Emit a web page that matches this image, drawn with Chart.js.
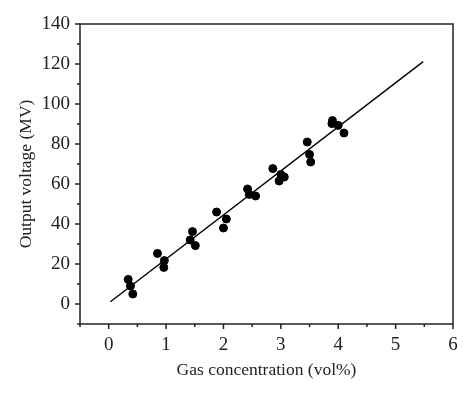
<!DOCTYPE html>
<html>
<head>
<meta charset="utf-8">
<script src="https://cdn.jsdelivr.net/npm/chart.js@4"></script>
<style>
	html, body { margin: 0; padding: 0; background: #fff; }
	#wrap { width: 474px; height: 395px; }
</style>
</head>
<body>
<div id="wrap"><canvas id="gas-chart"></canvas></div>
<script>
const gasX = [
	0.34, 0.38, 0.42, 0.85, 0.97, 0.96, 1.46, 1.42, 1.51, 1.88, 2.05, 2.0,
	2.42, 2.45, 2.56, 2.86, 3.0, 2.97, 3.06, 3.46, 3.5, 3.52, 3.9, 3.89, 4.0, 4.1,
]
const voltageY = [
	12.3, 9, 5, 25.3, 21.7, 18.3, 36.2, 32, 29.2, 46, 42.5, 38,
	57.5, 54.8, 54, 67.7, 64.8, 61.5, 63.5, 81, 74.8, 71, 91.7, 90.2, 89.3, 85.5,
]
// linear fit end points
const fitX = [0.03, 5.48]
const fitY = [1.1, 121.2]

const xTicks = { min: -0.5, max: 6, step: 0.5 }
const yTicks = { min: -10, max: 140, step: 10 }

const serif = '"Liberation Serif", "DejaVu Serif", serif'

// box around plot + outward tick marks (major/minor)
const frameTicks = {
	id: 'frameTicks',
	afterDraw(chart) {
		const { ctx, chartArea: a, scales } = chart
		const x = scales.x
		const y = scales.y
		ctx.save()
		ctx.strokeStyle = '#222'
		ctx.lineWidth = 1.5
		ctx.strokeRect(a.left, a.top, a.right - a.left, a.bottom - a.top)
		ctx.beginPath()
		x.ticks.forEach(t => {
			const px = x.getPixelForValue(t.value)
			const len = Number.isInteger(t.value) ? 5 : 3
			ctx.moveTo(px, a.bottom)
			ctx.lineTo(px, a.bottom + len)
		})
		y.ticks.forEach(t => {
			const py = y.getPixelForValue(t.value)
			const len = t.value % 20 === 0 ? 5 : 3
			ctx.moveTo(a.left, py)
			ctx.lineTo(a.left - len, py)
		})
		ctx.stroke()
		ctx.restore()
	},
}

const ctx = document.getElementById('gas-chart').getContext('2d')
new Chart(ctx, {
	type: 'scatter',
	data: {
		datasets: [
			{
				label: 'fit',
				data: fitX.map((v, i) => ({ x: v, y: fitY[i] })),
				showLine: true,
				borderColor: '#000',
				borderWidth: 1.4,
				pointRadius: 0,
			},
			{
				label: 'data',
				data: gasX.map((v, i) => ({ x: v, y: voltageY[i] })),
				backgroundColor: '#000',
				borderColor: '#000',
				pointRadius: 4,
			},
		],
	},
	options: {
		responsive: true,
		maintainAspectRatio: false,
		animation: false,
		layout: { padding: { top: 24, right: 21, left: 0, bottom: 0 } },
		plugins: {
			legend: { display: false },
			tooltip: { enabled: false },
		},
		scales: {
			x: {
				type: 'linear',
				min: xTicks.min,
				max: xTicks.max,
				grid: { display: false },
				border: { display: false },
				ticks: {
					stepSize: xTicks.step,
					autoSkip: false,
					maxRotation: 0,
					padding: 2,
					color: '#222',
					font: { family: serif, size: 19 },
					callback: v => (Number.isInteger(v) && v >= 0 ? v : ''),
				},
				title: {
					display: true,
					text: 'Gas concentration (vol%)',
					color: '#222',
					font: { family: serif, size: 17.5 },
					padding: { top: 2, bottom: 14 },
				},
				afterFit: scale => {
					scale.height = 71
				},
			},
			y: {
				min: yTicks.min,
				max: yTicks.max,
				grid: { display: false },
				border: { display: false },
				ticks: {
					stepSize: yTicks.step,
					autoSkip: false,
					padding: 2,
					color: '#222',
					font: { family: serif, size: 19 },
					callback: v => (v % 20 === 0 && v >= 0 ? v : ''),
				},
				title: {
					display: true,
					text: 'Output voltage (MV)',
					color: '#222',
					font: { family: serif, size: 17.5 },
					padding: { top: 16, bottom: 4 },
				},
				afterFit: scale => {
					scale.width = 80
				},
			},
		},
	},
	plugins: [frameTicks],
})
</script>
</body>
</html>
